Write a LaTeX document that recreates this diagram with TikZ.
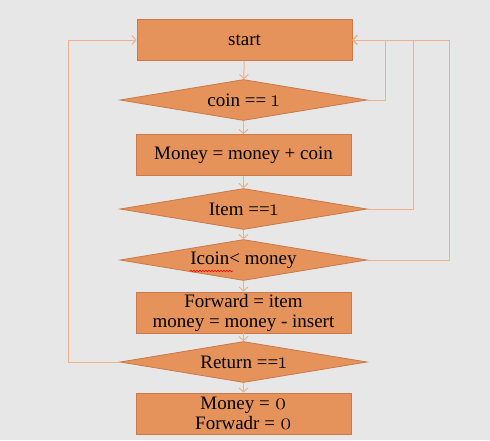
\documentclass[tikz,border=0pt]{standalone}
\usepackage{fontspec}
\setmainfont{Liberation Serif}
\newfontfamily\osffam{Latin Modern Roman}[Numbers=OldStyle]
\newcommand{\osd}[1]{{\osffam\fontsize{23}{20}\selectfont #1}}
\usetikzlibrary{shapes.geometric,arrows.meta,decorations.pathmorphing}
\definecolor{bg}{HTML}{E7E7E7}
\definecolor{boxfill}{HTML}{E5935B}
\definecolor{boxline}{HTML}{C9794A}
\definecolor{conn}{HTML}{F0B088}
\begin{document}
\begin{tikzpicture}[x=1pt,y=-1pt,
  font=\fontsize{19}{20}\selectfont,
  procbox/.style={rectangle,draw=boxline,fill=boxfill,line width=0.8pt,
    minimum width=215pt,minimum height=41pt,inner sep=1pt,align=center},
  decbox/.style={diamond,draw=boxline,fill=boxfill,line width=0.8pt,aspect=6,
    minimum width=247pt,minimum height=41pt,inner sep=0pt,align=center},
  flow/.style={draw=conn,line width=1pt,-{Straight Barb[length=4pt,width=9pt]}}]
\fill[bg] (0,0) rectangle (490,440);
\useasboundingbox (0,0) rectangle (490,440);
\node[procbox] (start) at (244.5,40) {start};
\node[decbox] (coin) at (243.5,100) {coin == \osd{1}};
\node[procbox] (money) at (243.5,155) {Money = money + coin};
\node[decbox] (item) at (243.5,209) {Item ==\osd{1}};
\node[decbox] (icoin) at (243.5,260) {Icoin< money};
\node[procbox] (fwd) at (243.5,312.5) {Forward = item\\money = money - insert};
\node[decbox] (ret) at (243.5,362) {Return ==\osd{1}};
\node[procbox] (zero) at (243.5,413.5) {Money = \osd{0}\\Forwadr = \osd{0}};
\draw[red,line width=0.6pt,decorate,decoration={snake,amplitude=0.8pt,segment length=3pt}] (190,271) -- (233,271);
\coordinate (r1) at (385,40);
\coordinate (r2) at (413,40);
\coordinate (r3) at (449,40);
\coordinate (l1) at (68,362);
\draw[flow] (start) -- (coin);
\draw[flow] (coin) -- (money);
\draw[flow] (money) -- (item);
\draw[flow] (item) -- (icoin);
\draw[flow] (icoin) -- (fwd);
\draw[flow] (fwd) -- (ret);
\draw[flow] (ret) -- (zero);
\draw[flow] (coin.east) -| (r1) -- (start.east);
\draw[flow] (item.east) -| (r2) -- (start.east);
\draw[flow] (icoin.east) -| (r3) -- (start.east);
\draw[flow] (ret.west) -- (l1) |- (start.west);
\end{tikzpicture}
\end{document}
